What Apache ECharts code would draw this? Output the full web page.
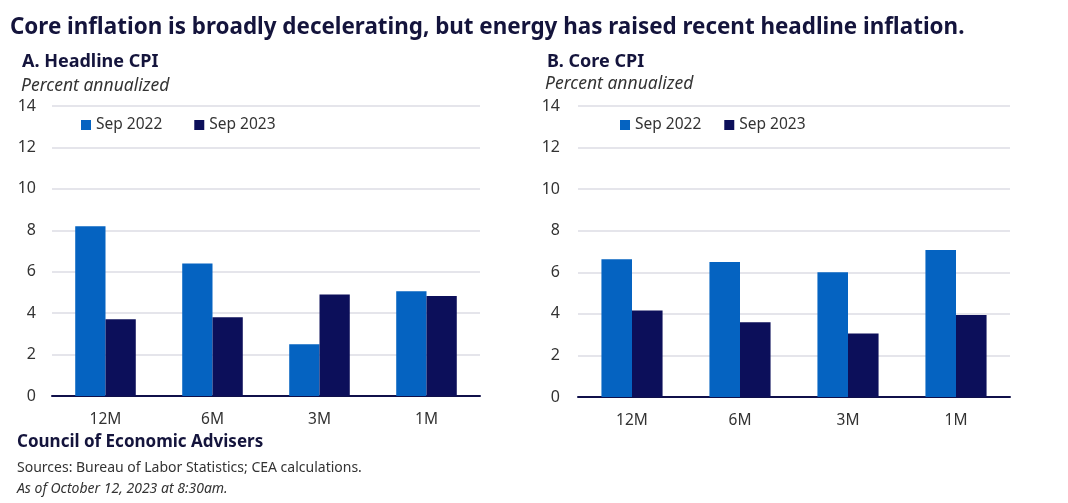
<!DOCTYPE html>
<html>
<head>
<meta charset="utf-8">
<script src="https://cdn.jsdelivr.net/npm/echarts@6/dist/echarts.min.js"></script>
<style>
html,body{margin:0;padding:0;background:#fff;}
#c{width:1068px;height:503px;}
</style>
</head>
<body>
<div id="c"></div>
<script>
const categories = ['12M', '6M', '3M', '1M'];
const seriesNames = ['Sep 2022', 'Sep 2023'];
const headline2022 = [8.2, 6.4, 2.5, 5.06];
const headline2023 = [3.7, 3.8, 4.9, 4.83];
const core2022 = [6.63, 6.5, 6.0, 7.07];
const core2023 = [4.16, 3.6, 3.06, 3.94];
const yTicks = [0, 2, 4, 6, 8, 10, 12, 14];

const FONT = '"Noto Sans", "Open Sans", sans-serif';
const C1 = '#0563c1';
const C2 = '#0c0f5a';
const NAVY = '#14143c';

const chart = echarts.init(document.getElementById('c'), null, {renderer: 'canvas'});

function yAxis(gi, margin) {
  return {
    gridIndex: gi, type: 'value', min: yTicks[0], max: yTicks[yTicks.length - 1], interval: 2,
    axisLine: {show: false}, axisTick: {show: false},
    axisLabel: {color: '#333', fontSize: 16, fontFamily: FONT, margin: margin},
    splitLine: {lineStyle: {color: '#dcdce4', width: 1.5}}
  };
}
function xAxis(gi) {
  return {
    gridIndex: gi, type: 'category', data: categories,
    axisLine: {lineStyle: {color: '#10104a', width: 2}}, axisTick: {show: false},
    axisLabel: {color: '#333', fontSize: 15.5, fontFamily: FONT, margin: 16}
  };
}
function bar(name, data, gi, color) {
  return {
    name: name, type: 'bar', xAxisIndex: gi, yAxisIndex: gi, data: data,
    barWidth: '28.3%', barGap: '0%', itemStyle: {color: color},
    emphasis: {disabled: true}
  };
}
function legend(left, gap) {
  return {
    left: left, top: 117, padding: 0, itemWidth: 10, itemHeight: 10, itemGap: gap, icon: 'rect',
    data: seriesNames.map(n => ({name: n})),
    textStyle: {color: '#333', fontSize: 15.5, fontFamily: FONT, padding: [0, 0, 0, 0]},
    selectedMode: false
  };
}
function t(text, left, top, size, weight, style, color) {
  return {text: text, left: left, top: top, padding: 0,
    textStyle: {color: color, fontSize: size, fontWeight: weight, fontStyle: style, fontFamily: FONT}};
}

chart.setOption({
  animation: false,
  backgroundColor: '#fff',
  title: [
    t('Core inflation is broadly decelerating, but energy has raised recent headline inflation.', 10, 17, 22.4, 'bold', 'normal', NAVY),
    t('A. Headline CPI', 22, 53, 18, 'bold', 'normal', NAVY),
    t('Percent annualized', 21, 77, 17.5, 'normal', 'italic', '#333'),
    t('B. Core CPI', 547, 53, 18, 'bold', 'normal', NAVY),
    t('Percent annualized', 545, 75, 17.5, 'normal', 'italic', '#333'),
    t('Council of Economic Advisers', 17, 434, 17, 'bold', 'normal', NAVY),
    t('Sources: Bureau of Labor Statistics; CEA calculations.', 17, 461, 14, 'normal', 'normal', '#333'),
    t('As of October 12, 2023 at 8:30am.', 17, 482, 14, 'normal', 'italic', '#333')
  ],
  legend: [legend(81, 32), legend(620, 23)],
  grid: [
    {left: 52, right: 588, top: 106, bottom: 107},
    {left: 578, right: 58, top: 106, bottom: 106}
  ],
  xAxis: [xAxis(0), xAxis(1)],
  yAxis: [yAxis(0, 16), yAxis(1, 18)],
  series: [
    bar(seriesNames[0], headline2022, 0, C1),
    bar(seriesNames[1], headline2023, 0, C2),
    bar(seriesNames[0], core2022, 1, C1),
    bar(seriesNames[1], core2023, 1, C2)
  ]
});
</script>
</body>
</html>
